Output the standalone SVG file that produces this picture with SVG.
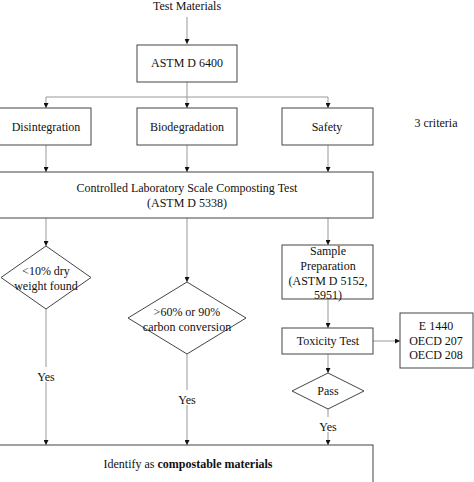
<svg xmlns="http://www.w3.org/2000/svg" width="474" height="482" viewBox="0 0 474 482">
<style>
text{font-family:"Liberation Serif","Times New Roman",serif;font-size:12px;fill:#111;text-anchor:middle}
.box{fill:#fff;stroke:#444;stroke-width:1}
.ln{fill:none;stroke:#999;stroke-width:1}
</style>
<defs>
<marker id="ah" viewBox="0 0 8 8" refX="8" refY="4" markerWidth="5" markerHeight="5" orient="auto" markerUnits="userSpaceOnUse">
<path d="M0,0 L8,4 L0,8 z" fill="#111"/>
</marker>
</defs>
<rect width="474" height="482" fill="#fff"/>
<g id="connectors">
<path class="ln" d="M187,17 V44" marker-end="url(#ah)"/>
<path class="ln" d="M187,82 V97 M46,97 H328"/>
<path class="ln" d="M46,97 V108" marker-end="url(#ah)"/>
<path class="ln" d="M187,97 V108" marker-end="url(#ah)"/>
<path class="ln" d="M328,97 V108" marker-end="url(#ah)"/>
<path class="ln" d="M46,145 V172" marker-end="url(#ah)"/>
<path class="ln" d="M187,145 V172" marker-end="url(#ah)"/>
<path class="ln" d="M328,145 V172" marker-end="url(#ah)"/>
<path class="ln" d="M46,218 V246" marker-end="url(#ah)"/>
<path class="ln" d="M187,218 V282" marker-end="url(#ah)"/>
<path class="ln" d="M328,218 V245" marker-end="url(#ah)"/>
<path class="ln" d="M328,299 V328" marker-end="url(#ah)"/>
<path class="ln" d="M373,341 H400" marker-end="url(#ah)"/>
<path class="ln" d="M328,354 V373" marker-end="url(#ah)"/>
<path class="ln" d="M46,309 V445" marker-end="url(#ah)"/>
<path class="ln" d="M187,354 V445" marker-end="url(#ah)"/>
<path class="ln" d="M328,409 V445" marker-end="url(#ah)"/>
<rect x="34" y="367" width="24" height="15" fill="#fff"/>
<text x="46" y="381">Yes</text>
<rect x="175" y="390" width="24" height="15" fill="#fff"/>
<text x="187" y="404">Yes</text>
<rect x="316" y="417" width="24" height="15" fill="#fff"/>
<text x="328" y="431">Yes</text>
</g>
<g id="test-materials"><text x="187" y="10">Test Materials</text></g>
<g id="astm6400"><rect class="box" x="137" y="45" width="100" height="37"/><text x="187" y="67">ASTM D 6400</text></g>
<g id="disintegration"><rect class="box" x="-1" y="108" width="92" height="37"/><text x="46" y="131">Disintegration</text></g>
<g id="biodegradation"><rect class="box" x="137" y="108" width="100" height="37"/><text x="187" y="131">Biodegradation</text></g>
<g id="safety"><rect class="box" x="282" y="108" width="91" height="37"/><text x="327" y="131">Safety</text></g>
<g id="criteria"><text x="436" y="127">3 criteria</text></g>
<g id="composting"><rect class="box" x="-1" y="172" width="374" height="46"/><text x="187" y="192">Controlled Laboratory Scale Composting Test</text><text x="187" y="207">(ASTM D 5338)</text></g>
<g id="dry-weight"><polygon class="box" points="46,246 91,277.5 46,309 1,277.5"/><text x="46" y="275">&lt;10% dry</text><text x="46" y="290">weight found</text></g>
<g id="carbon"><polygon class="box" points="187,282 246,318 187,354 128,318"/><text x="187" y="316">&gt;60% or 90%</text><text x="187" y="331">carbon conversion</text></g>
<g id="sample-prep"><rect class="box" x="282" y="245" width="91" height="54"/><text x="328" y="255">Sample</text><text x="328" y="270">Preparation</text><text x="328" y="285">(ASTM D 5152,</text><text x="328" y="299">5951)</text></g>
<g id="toxicity"><rect class="box" x="282" y="328" width="91" height="26"/><text x="328" y="345">Toxicity Test</text></g>
<g id="standards"><rect class="box" x="400" y="313" width="73" height="55"/><text x="436" y="330">E 1440</text><text x="436" y="345">OECD 207</text><text x="436" y="359">OECD 208</text></g>
<g id="pass"><polygon class="box" points="328,373 364,391 328,409 292,391"/><text x="328" y="395">Pass</text></g>
<g id="compostable"><rect class="box" x="-1" y="445" width="374" height="45"/><text x="188" y="468">Identify as <tspan font-weight="bold">compostable materials</tspan></text></g>
</svg>
